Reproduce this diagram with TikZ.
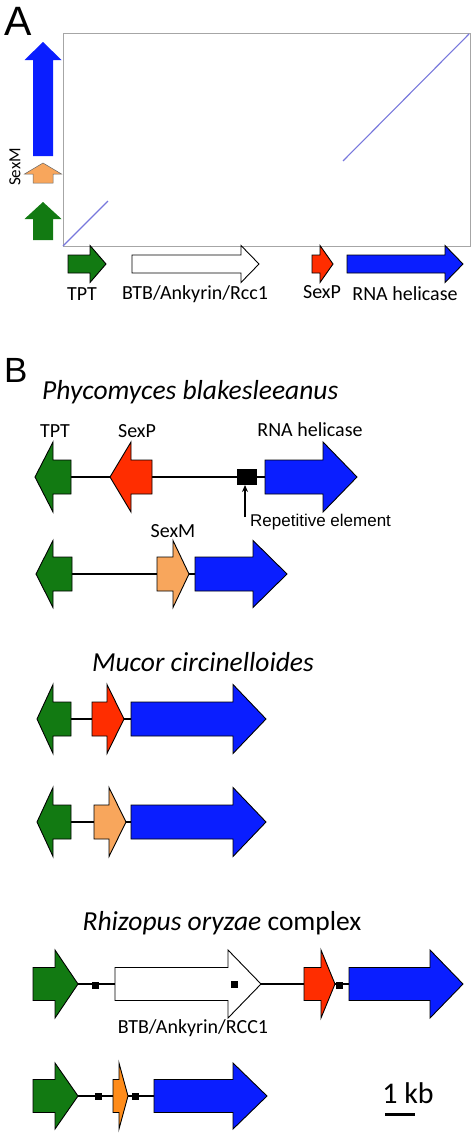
\documentclass[tikz,border=0pt]{standalone}
\usepackage{fontspec}
\setmainfont{Carlito}
\newfontfamily\arialf{Liberation Sans}
\usetikzlibrary{arrows.meta}
\definecolor{gGreen}{RGB}{18,122,18}
\definecolor{gRed}{RGB}{255,45,0}
\definecolor{gBlue}{RGB}{10,30,255}
\definecolor{gOrange}{RGB}{248,166,92}
\definecolor{gDOrange}{RGB}{255,140,26}
\definecolor{dotline}{RGB}{120,120,220}
\tikzset{
  genestyle/.style={draw=black, line width=0.9pt, line join=miter},
  conn/.style={draw=black, line width=2pt},
  lbl/.style={font=\fontsize{20}{22}\selectfont, inner sep=0pt},
  sp/.style={font=\fontsize{27.5}{30}\selectfont\itshape, inner sep=0pt},
  panel/.style={font=\arialf\fontsize{41}{43}\selectfont, inner sep=0pt},
}
% horizontal gene: fill, start, headstart, tip, centre y, shaft half, head half
\newcommand{\hgene}[7]{\draw[genestyle, fill=#1] (#2,#5-#6) -- (#3,#5-#6) -- (#3,#5-#7) -- (#4,#5) -- (#3,#5+#7) -- (#3,#5+#6) -- (#2,#5+#6) -- cycle;}
% vertical gene (up): fill, centre x, bottom, headbase, tip, shaft half, head half
\newcommand{\vgene}[7]{\draw[genestyle, fill=#1, draw=none] (#2-#6,#3) -- (#2-#6,#4) -- (#2-#7,#4) -- (#2,#5) -- (#2+#7,#4) -- (#2+#6,#4) -- (#2+#6,#3) -- cycle;}
\newcommand{\sq}[3]{\fill[black] (#1-#3,#2-#3) rectangle (#1+#3,#2+#3);}
\begin{document}
\begin{tikzpicture}[x=1pt,y=-1pt]
\useasboundingbox (0,0) rectangle (474,1135);
% ---------- Panel A ----------
\node[panel, anchor=base west] (pA) at (4,35) {A};
\draw[draw=gray!70, line width=1pt] (63,33) rectangle (470,246);
\draw[dotline, line width=1.1pt] (63,246) -- (108,201);
\draw[dotline, line width=1.1pt] (343,161) -- (469,34);
% vertical genes
\vgene{gBlue}{43}{156}{60}{42}{10}{18.5}
\vgene{gOrange}{43}{183}{174}{163}{10}{18.5}
\draw[black!60, line width=0.5pt] (33,183) -- (33,174) -- (24.5,174) -- (43,163) -- (61.5,174) -- (53,174) -- (53,183) -- cycle;
\vgene{gGreen}{43}{240}{219}{202}{10}{18.5}
\node[lbl, rotate=90, font=\fontsize{17}{19}\selectfont] (sexmA) at (15,167) {SexM};
% horizontal genes
\hgene{gGreen}{68}{90}{106}{264}{9}{18.5}
\hgene{white}{132}{241}{259}{264}{9}{18.5}
\hgene{gRed}{312}{320}{333}{264}{9}{18.5}
\hgene{gBlue}{347}{445}{463}{264}{9}{18.5}
\node[lbl] (tptA) at (82,294) {TPT};
\node[lbl] (btbA) at (195,294) {BTB/Ankyrin/Rcc1};
\node[lbl] (sexpA) at (322,292) {SexP};
\node[lbl] (rnaA) at (405,294) {RNA helicase};
% ---------- Panel B ----------
\node[panel, anchor=base west, font=\arialf\fontsize{35}{37}\selectfont] (pB) at (4,382) {B};
\node[sp, anchor=west] (phy) at (42,392) {Phycomyces blakesleeanus};
% row 1
\coordinate (r1a) at (71,477);
\coordinate (r1b) at (265,477);
\draw[conn] (r1a) -- (r1b);
\hgene{gGreen}{71}{53}{35}{477}{17}{35}
\hgene{gRed}{152}{131}{110}{477}{17}{35}
\fill[black] (237,469) rectangle (257,485);
\coordinate (repbox) at (245,485);
\coordinate (reptail) at (245,517);
\draw[black, line width=1.4pt, -{Stealth[length=7pt,width=6pt]}] (reptail) -- (repbox);
\hgene{gBlue}{265}{323}{357}{477}{17}{35}
\node[lbl] (tptB) at (55,431) {TPT};
\node[lbl] (sexpB) at (137,431) {SexP};
\node[lbl] (rnaB) at (310,430) {RNA helicase};
\node[anchor=west, inner sep=0pt, font=\arialf\fontsize{17}{19}\selectfont] (rep) at (250,522) {Repetitive element};
% row 2
\coordinate (r2a) at (72,574);
\coordinate (r2b) at (195,574);
\draw[conn] (r2a) -- (r2b);
\hgene{gGreen}{72}{53}{36}{574}{17}{33.5}
\hgene{gOrange}{157}{173}{189}{574}{17}{33.5}
\hgene{gBlue}{195}{253}{287}{574}{17}{33.5}
\node[lbl] (sexmB) at (173,531) {SexM};
% Mucor
\node[sp] (muc) at (203,662) {Mucor circinelloides};
\coordinate (r3a) at (71,719);
\coordinate (r3b) at (131,719);
\draw[conn] (r3a) -- (r3b);
\hgene{gGreen}{71}{53}{37}{719}{17}{34.5}
\hgene{gRed}{92}{107}{124}{719}{17}{34.5}
\hgene{gBlue}{131}{233}{266}{719}{17}{34.5}
\coordinate (r4a) at (71,822);
\coordinate (r4b) at (131,822);
\draw[conn] (r4a) -- (r4b);
\hgene{gGreen}{71}{53}{37}{822}{17}{34.5}
\hgene{gOrange}{94}{109}{126}{822}{17}{34.5}
\hgene{gBlue}{131}{233}{266}{822}{17}{34.5}
% Rhizopus
\node[font=\fontsize{27.5}{30}\selectfont, inner sep=0pt] (rhi) at (222,923) {\textit{Rhizopus oryzae} complex};
\coordinate (r5a) at (78,984);
\coordinate (r5b) at (349,984);
\draw[conn] (r5a) -- (r5b);
\hgene{gGreen}{33}{55}{78}{984}{16.5}{34}
\hgene{white}{115}{228}{261}{984}{16.5}{34}
\hgene{gRed}{304}{321}{335}{984}{16.5}{34}
\hgene{gBlue}{349}{430}{463}{984}{16.5}{34}
\sq{95}{985}{3.5}
\sq{234}{984}{3.5}
\sq{339}{985}{3.5}
\node[lbl] (btbB) at (193,1028) {BTB/Ankyrin/RCC1};
\coordinate (r6a) at (78,1096);
\coordinate (r6b) at (154,1096);
\draw[conn] (r6a) -- (r6b);
\hgene{gGreen}{33}{55}{78}{1096}{16.5}{33}
\hgene{gDOrange}{113}{119}{128}{1096}{16.5}{33}
\hgene{gBlue}{154}{233}{267}{1096}{16.5}{33}
\sq{98}{1096}{3.5}
\sq{135}{1096}{3.5}
\node[font=\fontsize{30}{32}\selectfont, inner sep=0pt] (kb) at (408,1093) {1 kb};
\coordinate (sb1) at (385,1114);
\coordinate (sb2) at (415,1114);
\draw[black, line width=3pt] (sb1) -- (sb2);
\end{tikzpicture}
\end{document}
